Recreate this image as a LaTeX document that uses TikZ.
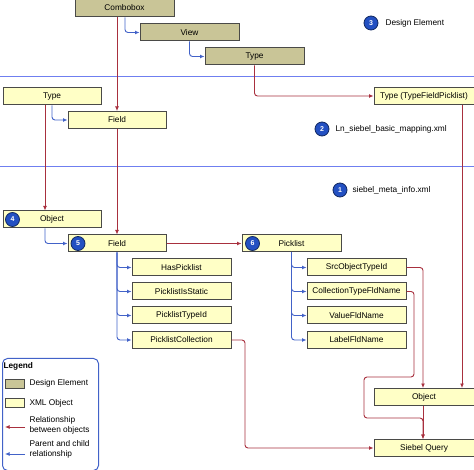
\documentclass[tikz,border=0pt]{standalone}
\usepackage{fontspec}
\setmainfont{Liberation Sans}
\usepackage{xcolor}
\usetikzlibrary{arrows.meta,positioning}
\definecolor{designfill}{HTML}{C9C597}
\definecolor{xmlfill}{HTML}{FFFFC6}
\definecolor{boxline}{HTML}{4A4A48}
\definecolor{relred}{HTML}{A8303E}
\definecolor{pcblue}{HTML}{4262C8}
\definecolor{sepblue}{HTML}{6F7FF0}
\definecolor{numblue}{HTML}{2350C2}

\begin{document}
\begin{tikzpicture}[x=1pt,y=-1pt,
  font=\fontsize{8.3}{10}\selectfont,
  obox/.style={draw=boxline,line width=1pt,minimum width=99pt,minimum height=17pt,inner sep=0pt},
  design/.style={obox,fill=designfill},
  xml/.style={obox,fill=xmlfill},
  swatch/.style={draw=boxline,line width=1pt,minimum width=19pt,minimum height=9pt,inner sep=0pt},
  rel/.style={-{Latex[length=4.5pt,width=4pt]},relred,line width=0.9pt,rounded corners=3pt},
  pc/.style={-{Latex[length=4.5pt,width=4pt]},pcblue,line width=0.9pt,rounded corners=3pt},
  num/.style={circle,fill=numblue,draw=numblue!50!black,line width=0.8pt,minimum size=14pt,inner sep=0pt,
    text=white,font=\fontsize{7}{8}\selectfont\bfseries},
  sep/.style={sepblue,line width=1pt}
]
\useasboundingbox (0,0) rectangle (474,470);
\clip (0,0) rectangle (474,470);

% file bands
\coordinate (sepAw) at (0,77);
\coordinate (sepAe) at (474,77);
\coordinate (sepBw) at (0,167);
\coordinate (sepBe) at (474,167);
\draw[sep] (sepAw) -- (sepAe);
\draw[sep] (sepBw) -- (sepBe);

\node[num] (n3) at (371,23) {3};
\node[anchor=west] (t3) at (382,23) {Design Element};
\node[num] (n2) at (322,129) {2};
\node[anchor=west] (t2) at (332,129) {Ln\_siebel\_basic\_mapping.xml};
\node[num] (n1) at (340,190) {1};
\node[anchor=west] (t1) at (349,190) {siebel\_meta\_info.xml};

% design elements
\node[design,minimum height=19pt] (combo) at (124.5,7.5) {Combobox};
\node[design] (view) at (189.5,32.5) {View};
\node[design] (dtype) at (254.5,56.5) {Type};

% mapping file
\node[xml,minimum width=98pt] (xtype) at (52,96.5) {Type};
\node[xml,minimum width=98pt] (xfield) at (117,120) {Field};
\node[xml,minimum width=100pt] (tfp) at (424,96) {Type (TypeFieldPicklist)};

% meta info file
\node[xml,minimum width=98pt] (obj) at (52,219.5) {Object};
\node[xml,minimum width=98pt] (field) at (117,243.5) {Field};
\node[xml] (pick) at (291.5,243.5) {Picklist};
\node[num] (n4) at (12.5,219.5) {4};
\node[num] (n5) at (78,243.5) {5};
\node[num] (n6) at (252.5,243.5) {6};

\node[xml] (has) at (181.5,267.5) {HasPicklist};
\node[xml] (static) at (181.5,291.5) {PicklistIsStatic};
\node[xml] (typeid) at (181.5,315.5) {PicklistTypeId};
\node[xml] (coll) at (181.5,340) {PicklistCollection};

\node[xml] (src) at (356.5,267.5) {SrcObjectTypeId};
\node[xml] (colltype) at (356.5,291.5) {CollectionTypeFldName};
\node[xml] (value) at (356.5,315.5) {ValueFldName};
\node[xml] (label) at (356.5,340) {LabelFldName};

\node[xml,minimum width=100pt] (robj) at (424,397) {Object};
\node[xml,minimum width=100pt] (query) at (424,448) {Siebel Query};

% parent and child
\draw[pc] ([xshift=0.5pt]combo.south) |- (view.west);
\draw[pc] (view.south) |- (dtype.west);
\draw[pc] (xtype.south) |- (xfield.west);
\draw[pc] ([xshift=-7pt]obj.south) |- (field.west);
\foreach \c in {has,static,typeid,coll}
  \draw[pc] (field.south) |- (\c.west);
\foreach \c in {src,colltype,value,label}
  \draw[pc] (pick.south) |- (\c.west);

% relationships
\draw[rel] (combo.south -| xfield.north) -- (xfield.north);
\draw[rel] (xfield.south) -- (field.north);
\draw[rel] (dtype.south) |- (tfp.west);
\draw[rel] ([xshift=-7pt]xtype.south) -- ([xshift=-7pt]obj.north);
\draw[rel] ([xshift=38pt]tfp.south) -- ([xshift=38pt]robj.north);
\draw[rel] (field.east) -- (pick.west);
\draw[rel] (src.east) -| ([xshift=-1pt]robj.north);
\draw[rel] (colltype.east) -| (414,377) -| (364,418) -| ([xshift=-1pt]query.north);
\draw[rel] ([xshift=-1pt]robj.south) -- ([xshift=-1pt]query.north);
\draw[rel] (coll.east) -| (245,448) -- (query.west);

% legend
\node[draw=pcblue,line width=1pt,rounded corners=5pt,anchor=north west,
  minimum width=96pt,minimum height=112pt] (legend) at (2,358) {};
\node[anchor=west,font=\fontsize{8.3}{10}\selectfont\bfseries] (lhead) at (0,366) {Legend};
\node[swatch,fill=designfill] (lsd) at (14.5,383.5) {};
\node[anchor=west] (ltd) at (26,383.5) {Design Element};
\node[swatch,fill=xmlfill] (lsx) at (14.5,403) {};
\node[anchor=west] (ltx) at (26,403) {XML Object};
\coordinate (lrelA) at (25,427);
\coordinate (lrelB) at (5,427);
\draw[rel] (lrelA) -- (lrelB);
\node[anchor=west,align=left] (ltr) at (26,425.5) {Relationship\\between objects};
\coordinate (lpcA) at (25,454);
\coordinate (lpcB) at (5,454);
\draw[pc] (lpcA) -- (lpcB);
\node[anchor=west,align=left] (ltp) at (26,449) {Parent and child\\relationship};
\end{tikzpicture}
\end{document}
